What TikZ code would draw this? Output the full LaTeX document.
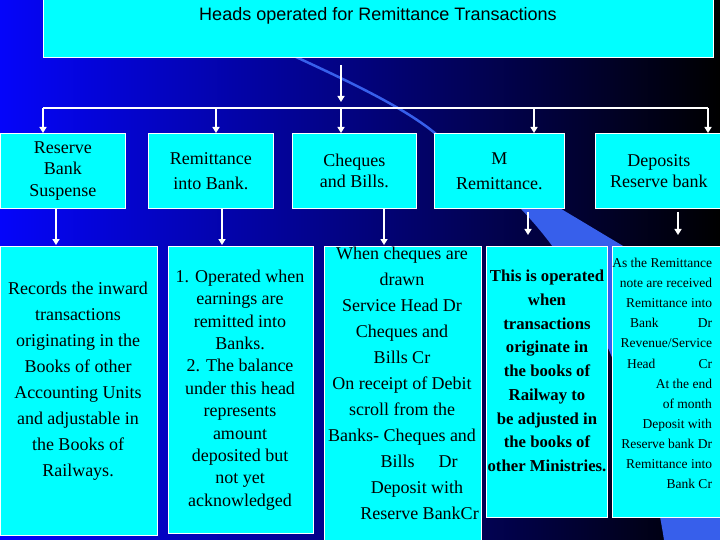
\documentclass[tikz,border=0pt]{standalone}
\usepackage{fontspec}
\setmainfont{Liberation Serif}
\newfontfamily\headfont{Liberation Sans}
\usepackage{tikz}
\usetikzlibrary{arrows.meta}
\definecolor{boxcyan}{RGB}{0,255,255}
\definecolor{slideblue}{RGB}{5,5,250}
\definecolor{swoosh}{RGB}{55,95,235}

\tikzset{
    cyanbox/.style = {rectangle, draw = white, line width = 0.8pt, fill = boxcyan, inner sep = 0pt, anchor = north west, align = center, text = black},
    note/.style = {align = center, inner sep = 0pt, text = black},
    flow/.style = {draw = white, line width = 1.6pt, -{Triangle[width = 7pt, length = 6pt]}}
}

\begin{document}
\begin{tikzpicture}[x = 1pt, y = -1pt]
    \shade [left color = slideblue, right color = black] (0,0) rectangle (720,540);
    \useasboundingbox (0,0) rectangle (720,540);

    % sweep of the slide design
    \draw [swoosh, line width = 2.5pt] (296,57) .. controls (350,82) and (405,108) .. (436,134);
    \fill [swoosh] (436,134) .. controls (500,185) and (545,225) .. (580,290) .. controls (620,365) and (650,450) .. (664,540) -- (720,540) -- (720,304) -- cycle;

    \node [cyanbox, minimum width = 670pt, minimum height = 58pt] (head) at (43,-1) {};
    \node [font = \headfont\fontsize{18}{22}\selectfont] (title) at (378,16) {Heads operated for Remittance Transactions};

    \foreach \name/\xpos/\boxw/\txt in {suspense/0/125/{Reserve\\Bank\\Suspense}, rib/148/125/{Remittance\\[3.5pt]into Bank.}, cheques/292/124/{Cheques\\and Bills.}, mremit/434/130/{M\\[3.5pt]Remittance.}, deposits/595/127/{Deposits\\Reserve bank}}
    {
        \node [cyanbox, minimum width = \boxw pt, minimum height = 75pt, font = \fontsize{18}{21.5}\selectfont] (\name) at (\xpos,133) {\txt};
    }

    \foreach \name/\xpos/\boxw/\boxh in {suspdesc/0/157/289, ribdesc/168/145/287, chqdesc/324/157/310, mremdesc/486/121/271, depdesc/612/112/271}
    {
        \node [cyanbox, minimum width = \boxw pt, minimum height = \boxh pt] (\name) at (\xpos,246) {};
    }

    \node [note, font = \fontsize{18}{26}\selectfont] (suspinfo) at (78,381) {Records the inward\\transactions\\originating in the\\Books of other\\Accounting Units\\and adjustable in\\the Books of\\Railways.};
    \node [note, font = \fontsize{18}{22.4}\selectfont] (ribinfo) at (240,390) {1. Operated when\\earnings are\\remitted into\\Banks.\\2. The balance\\under this head\\represents\\amount\\deposited but\\not yet\\acknowledged};
    \node [note, font = \fontsize{18}{26}\selectfont] (chqinfo) at (402,383) {When cheques are\\drawn\\Service Head Dr\\Cheques and\\Bills Cr\\On receipt of Debit\\scroll from the\\Banks- Cheques and\\\hspace*{34pt}Bills\hspace{24pt}Dr\\\hspace*{30pt}Deposit with\\\hspace*{35pt}Reserve BankCr};
    \node [note, font = \fontsize{16.7}{23.75}\selectfont\bfseries] (mreminfo) at (547,371) {This is operated\\when\\transactions\\originate in\\the books of\\Railway to\\be adjusted in\\the books of\\other Ministries.};
    \node [note, text width = 104pt, align = flush right, font = \fontsize{13.5}{20.1}\selectfont] (depinfo) at (660,373.5) {As the Remittance\\note are received\\Remittance into\\\hspace*{22pt}Bank\hfill Dr\\Revenue/Service\\\hspace*{19pt}Head\hfill Cr\\At the end\\of month\\Deposit with\\Reserve bank Dr\\Remittance into\\Bank Cr};

    % connectors
    \coordinate (hub) at (341,108);
    \coordinate (busl) at (43,108);
    \coordinate (busr) at (708,108);
    \draw [flow] ([yshift = -7pt] head.south -| hub) -- ([yshift = 6pt] hub);
    \draw [white, line width = 1.4pt] (busl) -- (busr);
    \foreach \xpos/\target in {43/suspense, 216/rib, 341/cheques, 534/mremit, 708/deposits}
    {
        \draw [flow] (busl -| \xpos,0) -- (\target.north -| \xpos,0);
    }
    \foreach \xpos/\src/\dst/\sgap/\egap in {56/suspense/suspdesc/0/1, 222/rib/ribdesc/0/1, 384/cheques/chqdesc/0/1, 528/mremit/mremdesc/3/11, 678/deposits/depdesc/3/11}
    {
        \draw [flow] ([yshift = -\sgap pt] \src.south -| \xpos,0) -- ([yshift = \egap pt] \dst.north -| \xpos,0);
    }
\end{tikzpicture}
\end{document}
